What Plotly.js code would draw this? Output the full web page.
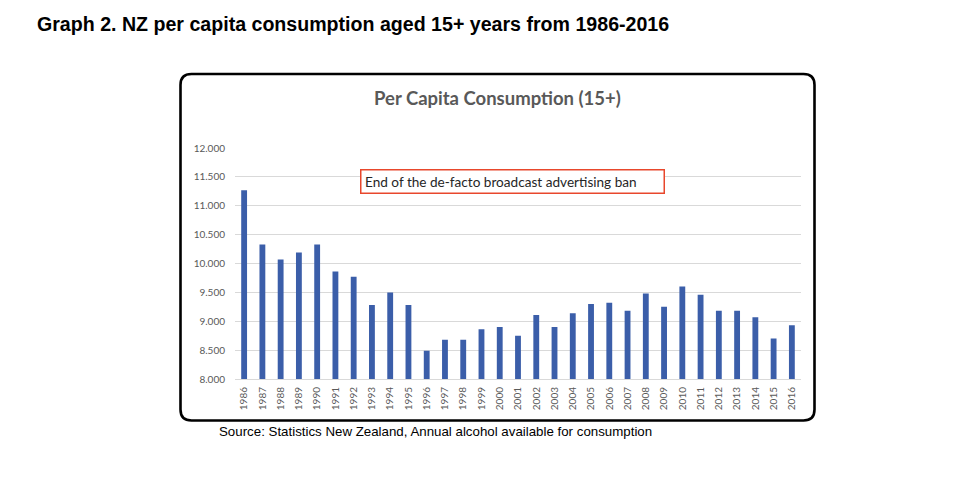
<!DOCTYPE html>
<html>
<head>
<meta charset="utf-8">
<script src="https://cdn.plot.ly/plotly-3.0.1.min.js"></script>
<style>
  html, body { margin: 0; padding: 0; background: #ffffff; }
  #chart { width: 959px; height: 501px; }
</style>
</head>
<body>
<div id="chart"></div>
<script>
// Litres of pure alcohol per person aged 15+, by year
const years = ['1986','1987','1988','1989','1990','1991','1992','1993','1994','1995',
               '1996','1997','1998','1999','2000','2001','2002','2003','2004','2005',
               '2006','2007','2008','2009','2010','2011','2012','2013','2014','2015','2016'];
const consumption = [11270, 10330, 10070, 10190, 10330, 9860, 9770, 9280, 9500, 9280,
                     8490, 8680, 8680, 8860, 8900, 8750, 9110, 8900, 9140, 9300,
                     9320, 9180, 9480, 9250, 9600, 9460, 9180, 9180, 9070, 8700, 8930];
const yTicks = [8000, 8500, 9000, 9500, 10000, 10500, 11000, 11500, 12000];

const pageTitle = 'Graph 2. NZ per capita consumption aged 15+ years from 1986-2016';
const chartTitle = 'Per Capita Consumption (15+)';
const noteText = 'End of the de-facto broadcast advertising ban';
const sourceText = 'Source: Statistics New Zealand, Annual alcohol available for consumption';

// plot area in pixels
const W = 959, H = 501;
const M = { l: 235, r: 158, t: 148, b: 122 };
const pw = W - M.l - M.r, ph = H - M.t - M.b;
const px = x => (x - M.l) / pw;            // pixel x -> paper x
const py = y => (H - M.b - y) / ph;         // pixel y -> paper y

// rounded frame around the chart
function roundedRect(x0, y0, x1, y1, r) {
  const X0 = px(x0), X1 = px(x1), Y0 = py(y0), Y1 = py(y1);
  const rx = r / pw, ry = r / ph;
  return `M ${X0 + rx},${Y0} L ${X1 - rx},${Y0} Q ${X1},${Y0} ${X1},${Y0 - ry} ` +
         `L ${X1},${Y1 + ry} Q ${X1},${Y1} ${X1 - rx},${Y1} ` +
         `L ${X0 + rx},${Y1} Q ${X0},${Y1} ${X0},${Y1 + ry} ` +
         `L ${X0},${Y0 - ry} Q ${X0},${Y0} ${X0 + rx},${Y0} Z`;
}

const chartFont = 'Lato, "Open Sans", sans-serif';

const trace = {
  type: 'bar',
  x: years,
  y: consumption,
  marker: { color: '#3b5ea9' },
  hoverinfo: 'x+y'
};

const layout = {
  width: W, height: H,
  margin: M,
  paper_bgcolor: '#ffffff',
  plot_bgcolor: 'rgba(0,0,0,0)',
  separators: ',.',
  showlegend: false,
  bargap: 0.68,
  xaxis: {
    type: 'category',
    tickangle: -90,
    tickfont: { family: chartFont, size: 10, color: '#595959' },
    showgrid: false,
    showline: true, linecolor: '#d9d9d9', linewidth: 1,
    ticks: '',
    ticklabelstandoff: 3
  },
  yaxis: {
    range: [8000, 12000],
    tickvals: yTicks,
    tickformat: ',.0f',
    tickfont: { family: chartFont, size: 10, color: '#595959' },
    showgrid: true, gridcolor: '#d9d9d9', gridwidth: 1,
    zeroline: false, showline: false, ticks: '',
    ticklabelstandoff: 9
  },
  shapes: [{
    type: 'path', xref: 'paper', yref: 'paper',
    path: roundedRect(180.5, 74, 814.5, 420.5, 11),
    line: { color: '#000000', width: 2.6 },
    fillcolor: 'rgba(0,0,0,0)',
    layer: 'below'
  }],
  annotations: [
    {
      xref: 'paper', yref: 'paper', x: px(35), y: py(24),
      xanchor: 'left', yanchor: 'middle', showarrow: false,
      text: '<b>' + pageTitle + '</b>',
      font: { family: 'Liberation Sans, Arial, sans-serif', size: 19.6, color: '#000000' }
    },
    {
      xref: 'paper', yref: 'paper', x: px(497.5), y: py(98),
      xanchor: 'center', yanchor: 'middle', showarrow: false,
      text: '<b>' + chartTitle + '</b>',
      font: { family: chartFont, size: 18.5, color: '#595959' }
    },
    {
      xref: 'paper', yref: 'paper', x: px(360), y: py(181.5),
      xanchor: 'left', yanchor: 'middle', showarrow: false,
      text: noteText, align: 'left',
      width: 295, height: 15, borderpad: 3.5,
      bordercolor: '#e8472c', borderwidth: 1.5, bgcolor: '#ffffff',
      font: { family: chartFont, size: 13.6, color: '#262626' }
    },
    {
      xref: 'paper', yref: 'paper', x: px(217), y: py(431),
      xanchor: 'left', yanchor: 'middle', showarrow: false,
      text: sourceText,
      font: { family: 'Liberation Sans, Arial, sans-serif', size: 13.3, color: '#000000' }
    }
  ]
};

Plotly.newPlot('chart', [trace], layout, { displayModeBar: false, staticPlot: true });
</script>
</body>
</html>
